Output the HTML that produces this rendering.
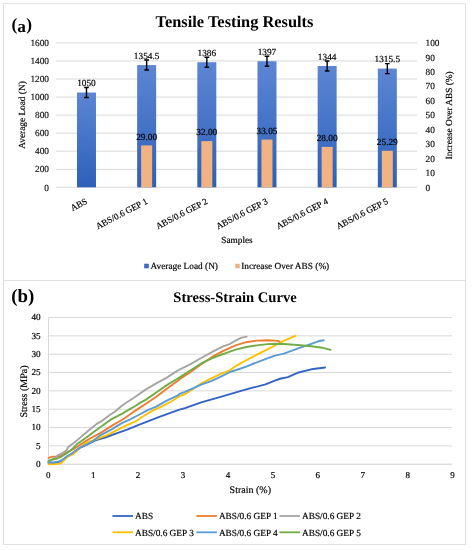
<!DOCTYPE html>
<html><head><meta charset="utf-8"><title>Charts</title>
<style>
html,body{margin:0;padding:0;background:#fff;width:472px;height:550px;overflow:hidden;}
body{position:relative;font-family:"Liberation Serif", serif;}
svg text{font-family:"Liberation Serif", serif;text-rendering:geometricPrecision;}
svg text:not([font-weight=bold]){stroke:currentColor;stroke-width:0.18px;}
</style></head><body>
<svg width="472" height="550" viewBox="0 0 472 550" style="position:absolute;left:0;top:0;will-change:transform">
<defs>
<linearGradient id="gb" x1="0" y1="0" x2="0" y2="1" gradientUnits="objectBoundingBox">
<stop offset="0" stop-color="#5d86d4"/><stop offset="1" stop-color="#2d60b9"/>
</linearGradient>
</defs>
<rect x="0" y="0" width="472" height="550" fill="#fff"/>
<rect x="3.5" y="3.5" width="462" height="277" fill="none" stroke="#e2e2e2" stroke-width="1"/>
<rect x="3.5" y="280.5" width="462" height="264" fill="none" stroke="#e0e0e0" stroke-width="1"/>
<line x1="56" x2="417" y1="187.3" y2="187.3" stroke="#d9d9d9" stroke-width="1"/>
<line x1="56" x2="417" y1="169.25" y2="169.25" stroke="#d9d9d9" stroke-width="1"/>
<line x1="56" x2="417" y1="151.2" y2="151.2" stroke="#d9d9d9" stroke-width="1"/>
<line x1="56" x2="417" y1="133.15" y2="133.15" stroke="#d9d9d9" stroke-width="1"/>
<line x1="56" x2="417" y1="115.1" y2="115.1" stroke="#d9d9d9" stroke-width="1"/>
<line x1="56" x2="417" y1="97.05" y2="97.05" stroke="#d9d9d9" stroke-width="1"/>
<line x1="56" x2="417" y1="79" y2="79" stroke="#d9d9d9" stroke-width="1"/>
<line x1="56" x2="417" y1="60.95" y2="60.95" stroke="#d9d9d9" stroke-width="1"/>
<line x1="56" x2="417" y1="42.9" y2="42.9" stroke="#d9d9d9" stroke-width="1"/>
<text x="49" y="190.5" text-anchor="end" font-size="9.3" fill="#262626">0</text>
<text x="49" y="172.45" text-anchor="end" font-size="9.3" fill="#262626">200</text>
<text x="49" y="154.4" text-anchor="end" font-size="9.3" fill="#262626">400</text>
<text x="49" y="136.35" text-anchor="end" font-size="9.3" fill="#262626">600</text>
<text x="49" y="118.3" text-anchor="end" font-size="9.3" fill="#262626">800</text>
<text x="49" y="100.25" text-anchor="end" font-size="9.3" fill="#262626">1000</text>
<text x="49" y="82.2" text-anchor="end" font-size="9.3" fill="#262626">1200</text>
<text x="49" y="64.15" text-anchor="end" font-size="9.3" fill="#262626">1400</text>
<text x="49" y="46.1" text-anchor="end" font-size="9.3" fill="#262626">1600</text>
<text x="425.5" y="190.5" text-anchor="start" font-size="9.3" fill="#262626">0</text>
<text x="425.5" y="176.06" text-anchor="start" font-size="9.3" fill="#262626">10</text>
<text x="425.5" y="161.62" text-anchor="start" font-size="9.3" fill="#262626">20</text>
<text x="425.5" y="147.18" text-anchor="start" font-size="9.3" fill="#262626">30</text>
<text x="425.5" y="132.74" text-anchor="start" font-size="9.3" fill="#262626">40</text>
<text x="425.5" y="118.3" text-anchor="start" font-size="9.3" fill="#262626">50</text>
<text x="425.5" y="103.86" text-anchor="start" font-size="9.3" fill="#262626">60</text>
<text x="425.5" y="89.42" text-anchor="start" font-size="9.3" fill="#262626">70</text>
<text x="425.5" y="74.98" text-anchor="start" font-size="9.3" fill="#262626">80</text>
<text x="425.5" y="60.54" text-anchor="start" font-size="9.3" fill="#262626">90</text>
<text x="425.5" y="46.1" text-anchor="start" font-size="9.3" fill="#262626">100</text>
<rect x="76.98" y="92.54" width="19" height="94.76" fill="url(#gb)"/>
<path d="M86.48 87.54V97.54M84.18 87.54H88.78M84.18 97.54H88.78" stroke="#000" stroke-width="1.4" fill="none"/>
<text x="86.48" y="86.14" text-anchor="middle" font-size="9.3" fill="#000">1050</text>
<text transform="translate(87.98,203.1) rotate(-27.5)" text-anchor="end" font-size="9" fill="#000">ABS</text>
<rect x="137.15" y="65.06" width="19" height="122.24" fill="url(#gb)"/>
<rect x="141.15" y="145.42" width="11" height="41.88" fill="#f3b282"/>
<text x="146.65" y="139.52" text-anchor="middle" font-size="9.3" fill="#000">29.00</text>
<path d="M146.65 60.06V70.06M144.35 60.06H148.95M144.35 70.06H148.95" stroke="#000" stroke-width="1.4" fill="none"/>
<text x="146.65" y="58.66" text-anchor="middle" font-size="9.3" fill="#000">1354.5</text>
<text transform="translate(148.15,203.1) rotate(-27.5)" text-anchor="end" font-size="9" fill="#000">ABS/0.6 GEP 1</text>
<rect x="197.32" y="62.21" width="19" height="125.09" fill="url(#gb)"/>
<rect x="201.32" y="141.09" width="11" height="46.21" fill="#f3b282"/>
<text x="206.82" y="135.19" text-anchor="middle" font-size="9.3" fill="#000">32.00</text>
<path d="M206.82 57.21V67.21M204.52 57.21H209.12M204.52 67.21H209.12" stroke="#000" stroke-width="1.4" fill="none"/>
<text x="206.82" y="55.81" text-anchor="middle" font-size="9.3" fill="#000">1386</text>
<text transform="translate(208.32,203.1) rotate(-27.5)" text-anchor="end" font-size="9" fill="#000">ABS/0.6 GEP 2</text>
<rect x="257.48" y="61.22" width="19" height="126.08" fill="url(#gb)"/>
<rect x="261.48" y="139.58" width="11" height="47.72" fill="#f3b282"/>
<text x="266.98" y="133.68" text-anchor="middle" font-size="9.3" fill="#000">33.05</text>
<path d="M266.98 56.22V66.22M264.68 56.22H269.28M264.68 66.22H269.28" stroke="#000" stroke-width="1.4" fill="none"/>
<text x="266.98" y="54.82" text-anchor="middle" font-size="9.3" fill="#000">1397</text>
<text transform="translate(268.48,203.1) rotate(-27.5)" text-anchor="end" font-size="9" fill="#000">ABS/0.6 GEP 3</text>
<rect x="317.65" y="66" width="19" height="121.3" fill="url(#gb)"/>
<rect x="321.65" y="146.87" width="11" height="40.43" fill="#f3b282"/>
<text x="327.15" y="140.97" text-anchor="middle" font-size="9.3" fill="#000">28.00</text>
<path d="M327.15 61V71M324.85 61H329.45M324.85 71H329.45" stroke="#000" stroke-width="1.4" fill="none"/>
<text x="327.15" y="59.6" text-anchor="middle" font-size="9.3" fill="#000">1344</text>
<text transform="translate(328.65,203.1) rotate(-27.5)" text-anchor="end" font-size="9" fill="#000">ABS/0.6 GEP 4</text>
<rect x="377.82" y="68.58" width="19" height="118.72" fill="url(#gb)"/>
<rect x="381.82" y="150.78" width="11" height="36.52" fill="#f3b282"/>
<text x="387.32" y="144.88" text-anchor="middle" font-size="9.3" fill="#000">25.29</text>
<path d="M387.32 63.58V73.58M385.02 63.58H389.62M385.02 73.58H389.62" stroke="#000" stroke-width="1.4" fill="none"/>
<text x="387.32" y="62.18" text-anchor="middle" font-size="9.3" fill="#000">1315.5</text>
<text transform="translate(388.82,203.1) rotate(-27.5)" text-anchor="end" font-size="9" fill="#000">ABS/0.6 GEP 5</text>
<text transform="translate(25,115) rotate(-90)" text-anchor="middle" font-size="9.3" fill="#000">Average Load (N)</text>
<text transform="translate(451.5,115.3) rotate(-90)" text-anchor="middle" font-size="9.3" fill="#000">Increase Over ABS (%)</text>
<text x="237" y="243" text-anchor="middle" font-size="9.3" fill="#000">Samples</text>
<text x="234.5" y="26.8" text-anchor="middle" font-size="16.4" font-weight="bold" fill="#000">Tensile Testing Results</text>
<text x="11.4" y="29.5" font-size="17.3" font-weight="bold" fill="#000">(<tspan dy="2.1">a</tspan><tspan dy="-2.1" dx="0.5">)</tspan></text>
<rect x="144.2" y="263.7" width="4.6" height="4.6" fill="#3b69c6"/>
<text x="150.5" y="268.9" font-size="9.3" fill="#000">Average Load (N)</text>
<rect x="235.2" y="263.7" width="4.6" height="4.6" fill="#f3b282"/>
<text x="241.2" y="268.9" font-size="9.3" fill="#000">Increase Over ABS (%)</text>
<line x1="48.5" x2="452" y1="464.2" y2="464.2" stroke="#cccccc" stroke-width="1"/>
<line x1="48.5" x2="452" y1="445.87" y2="445.87" stroke="#d9d9d9" stroke-width="1"/>
<line x1="48.5" x2="452" y1="427.54" y2="427.54" stroke="#d9d9d9" stroke-width="1"/>
<line x1="48.5" x2="452" y1="409.21" y2="409.21" stroke="#d9d9d9" stroke-width="1"/>
<line x1="48.5" x2="452" y1="390.88" y2="390.88" stroke="#d9d9d9" stroke-width="1"/>
<line x1="48.5" x2="452" y1="372.55" y2="372.55" stroke="#d9d9d9" stroke-width="1"/>
<line x1="48.5" x2="452" y1="354.22" y2="354.22" stroke="#d9d9d9" stroke-width="1"/>
<line x1="48.5" x2="452" y1="335.89" y2="335.89" stroke="#d9d9d9" stroke-width="1"/>
<line x1="48.5" x2="452" y1="317.56" y2="317.56" stroke="#d9d9d9" stroke-width="1"/>
<line x1="48.5" x2="48.5" y1="317.56" y2="464.2" stroke="#d9d9d9" stroke-width="1"/>
<text x="40.7" y="467" text-anchor="end" font-size="9.2" fill="#000">0</text>
<text x="40.7" y="448.67" text-anchor="end" font-size="9.2" fill="#000">5</text>
<text x="40.7" y="430.34" text-anchor="end" font-size="9.2" fill="#000">10</text>
<text x="40.7" y="412.01" text-anchor="end" font-size="9.2" fill="#000">15</text>
<text x="40.7" y="393.68" text-anchor="end" font-size="9.2" fill="#000">20</text>
<text x="40.7" y="375.35" text-anchor="end" font-size="9.2" fill="#000">25</text>
<text x="40.7" y="357.02" text-anchor="end" font-size="9.2" fill="#000">30</text>
<text x="40.7" y="338.69" text-anchor="end" font-size="9.2" fill="#000">35</text>
<text x="40.7" y="320.36" text-anchor="end" font-size="9.2" fill="#000">40</text>
<text x="48.25" y="478.2" text-anchor="middle" font-size="9" fill="#000">0</text>
<text x="93.18" y="478.2" text-anchor="middle" font-size="9" fill="#000">1</text>
<text x="138.11" y="478.2" text-anchor="middle" font-size="9" fill="#000">2</text>
<text x="183.04" y="478.2" text-anchor="middle" font-size="9" fill="#000">3</text>
<text x="227.97" y="478.2" text-anchor="middle" font-size="9" fill="#000">4</text>
<text x="272.9" y="478.2" text-anchor="middle" font-size="9" fill="#000">5</text>
<text x="317.83" y="478.2" text-anchor="middle" font-size="9" fill="#000">6</text>
<text x="362.76" y="478.2" text-anchor="middle" font-size="9" fill="#000">7</text>
<text x="407.69" y="478.2" text-anchor="middle" font-size="9" fill="#000">8</text>
<text x="452.62" y="478.2" text-anchor="middle" font-size="9" fill="#000">9</text>
<text transform="translate(26.6,391.5) rotate(-90)" text-anchor="middle" font-size="10" fill="#000">Stress (MPa)</text>
<text x="250.3" y="492.5" text-anchor="middle" font-size="10" fill="#000">Strain (%)</text>
<text x="235" y="302.4" text-anchor="middle" font-size="14.6" font-weight="bold" fill="#000">Stress-Strain Curve</text>
<text x="11.3" y="301.9" font-size="18.9" font-weight="bold" fill="#000">(b)</text>
<path d="M48.5 462.8 L54 463 L59 462 L63 460 L67 457 L70.4 454.8 L78.9 448.5 L87.4 444.28 L95.3 440.34 L105.9 437.26 L116.5 433.3 L127.1 429.6 L140 424.3 L160 416.6 L179.5 409.7 L185 408.1 L201.2 402.4 L222.4 396.4 L243.6 390.1 L264.7 384.58 L275.5 380.34 L280 378.74 L287.9 377.07 L297.5 372.76 L311.3 369.3 L325.1 367.5" stroke="#3264c6" stroke-width="1.9" fill="none" stroke-linejoin="round" stroke-linecap="round"/>
<path d="M48.5 457.91 L52.4 456.68 L57.4 456.47 L61.3 455.55 L65 453.41 L69.5 450.9 L73.3 449.07 L76.8 447.05 L85.3 441.39 L90 438.52 L95 435.82 L100.6 432.89 L111.2 426.14 L121.8 420.02 L130.3 414.29 L135 410.83 L140 407.67 L145.6 404.02 L156.2 396.72 L166.8 388.83 L177.4 381 L180 379 L190.6 371.99 L201.2 364.22 L211.8 357.2 L222.4 351.3 L225 350.1 L235.6 345.3 L246.2 342.2 L256.8 340.6 L267.4 340.2 L275.5 340.6 L278.5 341 L279.6 342.2" stroke="#ed7d31" stroke-width="1.9" fill="none" stroke-linejoin="round" stroke-linecap="round"/>
<path d="M48.5 461 L53 459.5 L57.4 455.6 L61.9 453.4 L66.3 450.5 L68.3 447 L74.7 442.2 L81 436.87 L87.4 431.46 L90 429.27 L96.4 424.15 L102.7 420.36 L109.1 415.46 L115.4 411.17 L121.8 405.81 L128.1 401.54 L135 397.07 L145.6 389.61 L156.2 383.36 L166.8 377.63 L176.3 371.41 L180 369.28 L190.6 364.17 L201.2 357.97 L211.8 352.19 L222.4 346.71 L226 345.32 L230.3 343.8 L235.6 340.6 L240.9 337.9 L246.7 336.6" stroke="#a5a5a5" stroke-width="1.9" fill="none" stroke-linejoin="round" stroke-linecap="round"/>
<path d="M48.5 464.2 L58.7 463.9 L61.9 462.6 L65 459.4 L68.9 455.9 L72.7 454.4 L76 451.86 L78.9 448.72 L85.3 443.27 L90 441.33 L96.4 439 L105.9 435.66 L116.5 430.28 L127.1 425.22 L135.6 421.43 L140 418.28 L152 410.84 L161.5 406.54 L172.1 401 L180 395.97 L185 394.23 L200.1 384.2 L211.8 378.1 L222.4 373.1 L229.2 370.59 L235.6 366.17 L246.2 360.22 L256.8 354.71 L267.4 349.38 L276.5 344.73 L283.8 340.86 L290.7 337.81 L295.5 335.8" stroke="#ffc000" stroke-width="1.9" fill="none" stroke-linejoin="round" stroke-linecap="round"/>
<path d="M48.5 462.3 L53.6 462.5 L58.7 461.3 L62.5 459.8 L67 456.3 L71.4 453.7 L76 450.56 L78.9 448.22 L84 445.5 L87.4 444.29 L94 440.33 L100.6 435.12 L111.2 429.6 L121.8 423.16 L130.3 419.27 L140 414.26 L147.7 410.08 L156.2 406.7 L166.8 400.67 L177.4 395.72 L180 393.59 L185 391.91 L201.2 384.68 L211.8 380.8 L222.4 375.93 L230 372 L237.7 369.51 L246.2 366.65 L256.8 362.28 L267.4 358.46 L275 355.68 L283.8 353.58 L297.5 348.63 L311.3 343.8 L318.2 341.3 L323.7 340.3" stroke="#5b9bd5" stroke-width="1.9" fill="none" stroke-linejoin="round" stroke-linecap="round"/>
<path d="M48.5 461 L52.4 459.4 L57.4 458.5 L61.9 456.3 L67 453.1 L71.4 449.9 L76.8 444.35 L85.3 438.21 L93 432.41 L100.6 426.9 L106 422.94 L111.2 419.37 L121.8 413.9 L132.4 407.63 L135 406.23 L140 402.84 L145.6 399.86 L156.2 392.48 L166.8 385.11 L177.4 378.77 L180 377.09 L190.6 370.25 L201.2 363.46 L211.8 358.31 L222.4 354.25 L225 353.47 L235.6 349.62 L246.2 346.96 L256.8 345.4 L267.4 344.17 L275 343.76 L283.8 343.94 L297.5 345.01 L311.3 346.3 L322.3 347.7 L330.6 349.8" stroke="#70ad47" stroke-width="1.9" fill="none" stroke-linejoin="round" stroke-linecap="round"/>
<line x1="112.5" x2="133.0" y1="516" y2="516" stroke="#3264c6" stroke-width="1.8"/>
<text x="135.0" y="519.3" font-size="9.3" fill="#000">ABS</text>
<line x1="196.4" x2="216.9" y1="516" y2="516" stroke="#ed7d31" stroke-width="1.8"/>
<text x="218.9" y="519.3" font-size="9.3" fill="#000">ABS/0.6 GEP 1</text>
<line x1="279.5" x2="300.0" y1="516" y2="516" stroke="#a5a5a5" stroke-width="1.8"/>
<text x="302.0" y="519.3" font-size="9.3" fill="#000">ABS/0.6 GEP 2</text>
<line x1="112.5" x2="133.0" y1="532.3" y2="532.3" stroke="#ffc000" stroke-width="1.8"/>
<text x="135.0" y="535.6" font-size="9.3" fill="#000">ABS/0.6 GEP 3</text>
<line x1="196.4" x2="216.9" y1="532.3" y2="532.3" stroke="#5b9bd5" stroke-width="1.8"/>
<text x="218.9" y="535.6" font-size="9.3" fill="#000">ABS/0.6 GEP 4</text>
<line x1="279.5" x2="300.0" y1="532.3" y2="532.3" stroke="#70ad47" stroke-width="1.8"/>
<text x="302.0" y="535.6" font-size="9.3" fill="#000">ABS/0.6 GEP 5</text>
</svg>
</body></html>
